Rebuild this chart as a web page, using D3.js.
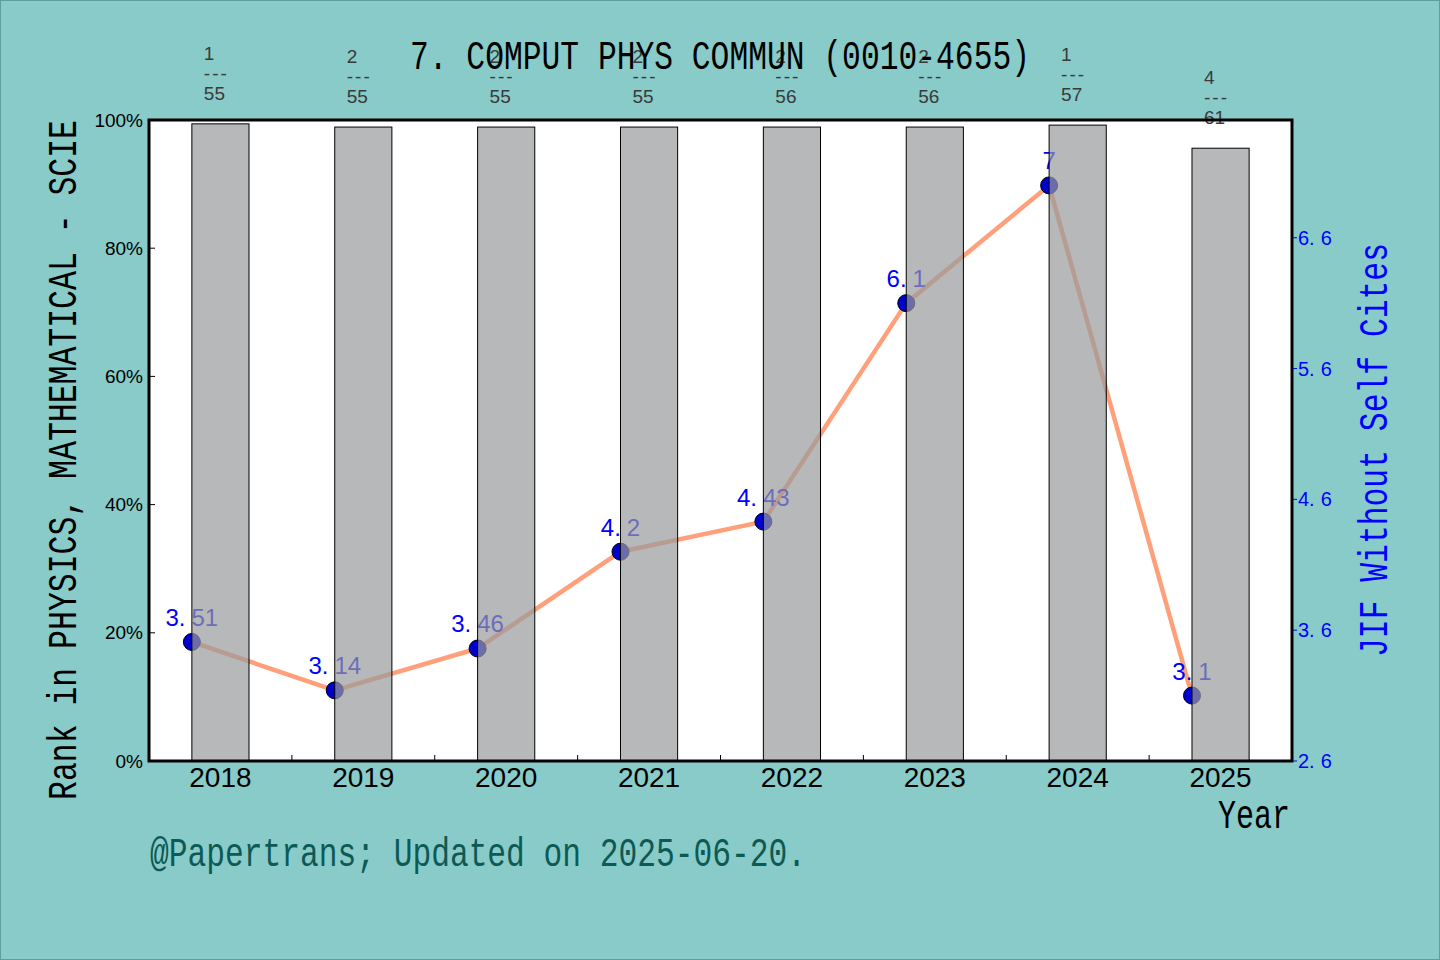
<!DOCTYPE html>
<html>
<head>
<meta charset="utf-8">
<script src="https://cdn.jsdelivr.net/npm/d3@7"></script>
<style>
  html, body { margin: 0; padding: 0; background: #88cbc9; }
  svg { display: block; }
</style>
</head>
<body>
<svg id="chart" width="1440" height="960"></svg>
<script>
// ---- data ----
const years = ["2018", "2019", "2020", "2021", "2022", "2023", "2024", "2025"];
const ranks = [1, 2, 2, 2, 2, 2, 1, 4];
const totals = [55, 55, 55, 55, 56, 56, 57, 61];
const rankPercent = [99.4, 98.9, 98.9, 98.9, 98.9, 98.9, 99.2, 95.6];
const jifValues = [3.51, 3.14, 3.46, 4.2, 4.43, 6.1, 7, 3.1];
const leftTicks = [0, 20, 40, 60, 80, 100];
const rightTicks = [2.6, 3.6, 4.6, 5.6, 6.6];
const titleText = "7. COMPUT PHYS COMMUN (0010-4655)";
const leftLabel = "Rank in PHYSICS, MATHEMATICAL - SCIE";
const rightLabel = "JIF Without Self Cites";
const xLabel = "Year";
const footerText = "@Papertrans; Updated on 2025-06-20.";

// ---- layout ----
const W = 1440, H = 960;
const plot = { left: 149, right: 1292, top: 120, bottom: 761 };
const svg = d3.select("#chart");
const monoFont = "'Liberation Mono', 'DejaVu Sans Mono', monospace";
const sansFont = "'Liberation Sans', Arial, sans-serif";

svg.append("rect").attr("x", 0.5).attr("y", 0.5).attr("width", W - 1).attr("height", H - 1)
  .attr("fill", "#88cbc9").attr("stroke", "#5d9f9d").attr("stroke-width", 1);

const x = d3.scaleLinear().domain([-0.3, 7.7]).range([plot.left, plot.right]);
const yL = d3.scaleLinear().domain([0, 100]).range([plot.bottom, plot.top]);
const yR = d3.scaleLinear().domain([2.6, 7.5]).range([plot.bottom, plot.top]);
const barW = x(0.4) - x(0);
const idx = years.map((d, i) => i);

// plot background
svg.append("rect").attr("x", plot.left).attr("y", plot.top)
  .attr("width", plot.right - plot.left).attr("height", plot.bottom - plot.top)
  .attr("fill", "#ffffff");

// line
const line = d3.line().x(i => x(i)).y(i => yR(jifValues[i]));
svg.append("path").datum(idx).attr("d", line)
  .attr("fill", "none").attr("stroke", "#ffa07a").attr("stroke-width", 4.5)
  .attr("stroke-linejoin", "round");

// points
svg.selectAll("circle.pt").data(idx).join("circle").attr("class", "pt")
  .attr("cx", i => x(i)).attr("cy", i => yR(jifValues[i])).attr("r", 8.5)
  .attr("fill", "#0000cd").attr("stroke", "#000").attr("stroke-width", 1);

// value labels
const vl = svg.selectAll("text.vl").data(idx).join("text").attr("class", "vl")
  .attr("x", i => x(i)).attr("y", i => yR(jifValues[i]) - 16)
  .attr("text-anchor", "middle").attr("font-family", sansFont).attr("font-size", 24)
  .attr("fill", "#0000ff");
vl.each(function(i) {
  const s = String(jifValues[i]);
  const parts = s.split(".");
  const t = d3.select(this);
  if (parts.length === 2) {
    t.append("tspan").text(parts[0] + ".");
    t.append("tspan").attr("dx", 6).text(parts[1]);
  } else {
    t.text(s);
  }
});

// bars (semi-transparent, on top)
svg.selectAll("rect.bar").data(idx).join("rect").attr("class", "bar")
  .attr("x", i => x(i)).attr("y", i => yL(rankPercent[i]))
  .attr("width", barW).attr("height", i => yL(0) - yL(rankPercent[i]))
  .attr("fill", "rgb(153,154,157)").attr("fill-opacity", 0.7)
  .attr("stroke", "#000").attr("stroke-width", 1);

// rank fraction labels
const fl = svg.selectAll("text.fl").data(idx).join("text").attr("class", "fl")
  .attr("font-family", sansFont).attr("font-size", 19).attr("fill", "#3a3a3a");
fl.each(function(i) {
  const t = d3.select(this);
  const bx = x(i) + 12, top = yL(rankPercent[i]);
  [String(ranks[i]), "---", String(totals[i])].forEach((s, k) => {
    const ts = t.append("tspan").attr("x", bx).attr("y", top - 64 + k * 20).text(s);
    if (k === 1) ts.attr("letter-spacing", 2);
  });
});

// frame
svg.append("rect").attr("x", plot.left).attr("y", plot.top)
  .attr("width", plot.right - plot.left).attr("height", plot.bottom - plot.top)
  .attr("fill", "none").attr("stroke", "#000").attr("stroke-width", 3);

// left axis (ticks inward)
const gL = svg.append("g");
gL.selectAll("line").data(leftTicks).join("line")
  .attr("x1", plot.left).attr("x2", plot.left + 6)
  .attr("y1", d => yL(d)).attr("y2", d => yL(d)).attr("stroke", "#000").attr("stroke-width", 1);
gL.selectAll("text").data(leftTicks).join("text")
  .attr("x", plot.left - 6).attr("y", d => yL(d)).attr("dy", "0.35em")
  .attr("text-anchor", "end").attr("font-family", sansFont).attr("font-size", 19)
  .attr("fill", "#000").text(d => d + "%");

// right axis (ticks outward, blue)
const gR = svg.append("g");
gR.selectAll("line").data(rightTicks).join("line")
  .attr("x1", plot.right + 1).attr("x2", plot.right + 5)
  .attr("y1", d => yR(d)).attr("y2", d => yR(d)).attr("stroke", "#0000ff").attr("stroke-width", 1);
gR.selectAll("text").data(rightTicks).join("text")
  .attr("x", plot.right + 6).attr("y", d => yR(d)).attr("dy", "0.35em")
  .attr("font-family", sansFont).attr("font-size", 20).attr("fill", "#0000ff")
  .each(function(d) {
    const p = d.toFixed(1).split(".");
    const t = d3.select(this);
    t.append("tspan").text(p[0] + ".");
    t.append("tspan").attr("dx", 6).text(p[1]);
  });

// x axis
const gX = svg.append("g");
gX.selectAll("line").data(idx.slice(0, 7)).join("line")
  .attr("x1", i => x(i + 0.7)).attr("x2", i => x(i + 0.7))
  .attr("y1", plot.bottom).attr("y2", plot.bottom - 6).attr("stroke", "#000").attr("stroke-width", 1);
gX.selectAll("text").data(idx).join("text")
  .attr("x", i => x(i + 0.2)).attr("y", 787).attr("text-anchor", "middle")
  .attr("font-family", sansFont).attr("font-size", 28).attr("fill", "#000")
  .text(i => years[i]);

// title
svg.append("text").attr("x", 720).attr("y", 69).attr("text-anchor", "middle")
  .attr("font-family", monoFont).attr("font-size", 40).attr("fill", "#000")
  .attr("textLength", 620).attr("lengthAdjust", "spacingAndGlyphs").text(titleText);

// left axis label
svg.append("text").attr("transform", "translate(76,460) rotate(-90)")
  .attr("text-anchor", "middle").attr("font-family", monoFont).attr("font-size", 40)
  .attr("fill", "#000").attr("textLength", 680).attr("lengthAdjust", "spacingAndGlyphs")
  .text(leftLabel);

// right axis label
svg.append("text").attr("transform", "translate(1387,450) rotate(-90)")
  .attr("text-anchor", "middle").attr("font-family", monoFont).attr("font-size", 40)
  .attr("fill", "#0000ff").attr("textLength", 414).attr("lengthAdjust", "spacingAndGlyphs")
  .text(rightLabel);

// x label
svg.append("text").attr("x", 1290).attr("y", 828).attr("text-anchor", "end")
  .attr("font-family", monoFont).attr("font-size", 40).attr("fill", "#000")
  .attr("textLength", 72).attr("lengthAdjust", "spacingAndGlyphs").text(xLabel);

// footer
svg.append("text").attr("x", 150).attr("y", 866)
  .attr("font-family", monoFont).attr("font-size", 40).attr("fill", "#0d5a55")
  .attr("textLength", 656).attr("lengthAdjust", "spacingAndGlyphs").text(footerText);
</script>
</body>
</html>
